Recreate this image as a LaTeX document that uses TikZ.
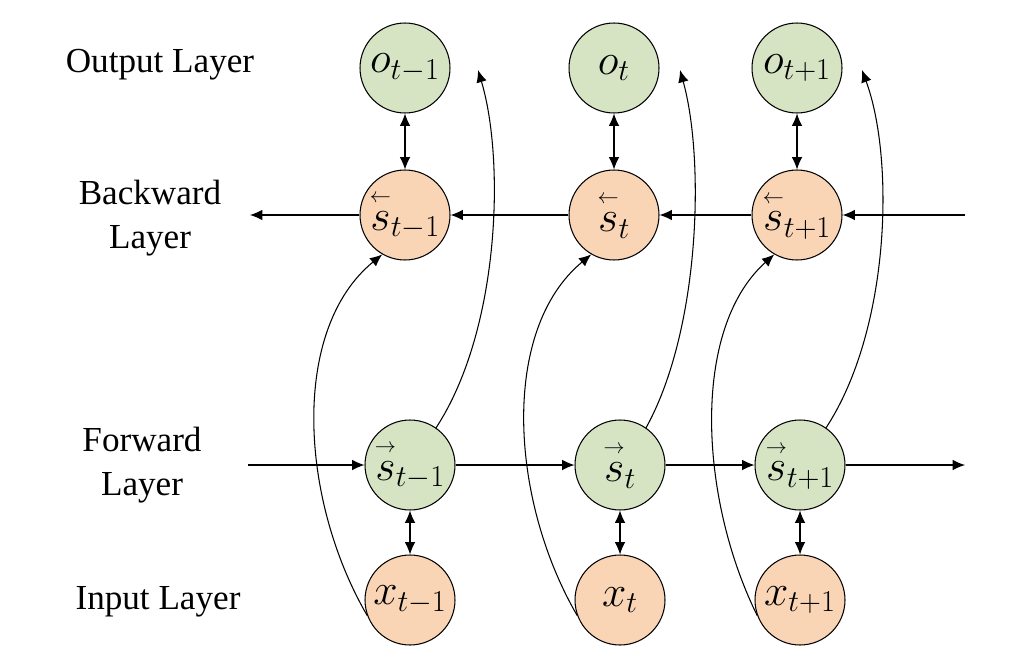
\documentclass[tikz,border=0pt]{standalone}
\usepackage{amsmath}
\usepackage{fontspec}
\setmainfont{Liberation Serif}
\usetikzlibrary{arrows.meta,positioning}
\definecolor{mgreen}{HTML}{D6E4C4}
\definecolor{morange}{HTML}{F9D5B6}
\tikzstyle{l2}=[line width=0.6]
\tikzstyle{unit}=[circle, draw=black, l2, minimum size=1.8cm, inner sep=0pt, font=\fontsize{23}{26}\selectfont]
\tikzstyle{lbl}=[font=\fontsize{20}{25}\selectfont, align=center]
\tikzstyle{arr}=[l2, -{Latex[length=7pt,width=6pt]}]
\tikzstyle{darr}=[l2, {Latex[length=7pt,width=6pt]}-{Latex[length=7pt,width=6pt]}]
\newcommand{\bk}{\overset{\scriptscriptstyle\leftarrow}{s}}
\newcommand{\fw}{\overset{\scriptscriptstyle\rightarrow}{s}}

\begin{document}
\begin{tikzpicture}[x=0.02cm, y=-0.02cm]
    \useasboundingbox (0,0) rectangle (1024,669);
    % layer labels
    \node[lbl] at (160,65) (lo) {Output Layer};
    \node[lbl] at (150,218) (lb) {Backward\\Layer};
    \node[lbl] at (142,465) (lf) {Forward\\Layer};
    \node[lbl] at (158,602) (li) {Input Layer};
    % units
    \node[unit, fill=mgreen] at (405,68) (o1) {$o_{t-1}$};
    \node[unit, fill=mgreen] at (614,68) (o2) {$o_{t}$};
    \node[unit, fill=mgreen] at (797,68) (o3) {$o_{t+1}$};
    \node[unit, fill=morange] at (405,215) (b1) {$\bk_{t-1}$};
    \node[unit, fill=morange] at (614,215) (b2) {$\bk_{t}$};
    \node[unit, fill=morange] at (797,215) (b3) {$\bk_{t+1}$};
    \node[unit, fill=mgreen] at (410,465) (f1) {$\fw_{t-1}$};
    \node[unit, fill=mgreen] at (620,465) (f2) {$\fw_{t}$};
    \node[unit, fill=mgreen] at (800,465) (f3) {$\fw_{t+1}$};
    \node[unit, fill=morange] at (410,600) (x1) {$x_{t-1}$};
    \node[unit, fill=morange] at (620,600) (x2) {$x_{t}$};
    \node[unit, fill=morange] at (800,600) (x3) {$x_{t+1}$};
    \coordinate (bin) at (965,215);
    \coordinate (bout) at (250,215);
    \coordinate (fin) at (248,465);
    \coordinate (fout) at (965,465);
    % recurrent connections
    \draw[arr] (bin) -- (b3);
    \draw[arr] (b3) -- (b2);
    \draw[arr] (b2) -- (b1);
    \draw[arr] (b1) -- (bout);
    \draw[arr] (fin) -- (f1);
    \draw[arr] (f1) -- (f2);
    \draw[arr] (f2) -- (f3);
    \draw[arr] (f3) -- (fout);
    % vertical links
    \foreach \i in {1,2,3} {
        \draw[darr] (o\i) -- (b\i);
        \draw[darr] (f\i) -- (x\i);
    }
    % input to backward
    \draw[arr] (x1.200) .. controls (300,500) and (290,330) .. (b1.240);
    \draw[arr] (x2.200) .. controls (510,500) and (500,330) .. (b2.240);
    \draw[arr] (x3.200) .. controls (700,500) and (690,330) .. (b3.240);
    % forward to output
    \draw[arr] (f1.55) .. controls (500,330) and (505,160) .. (478,70);
    \draw[arr] (f2.55) .. controls (700,330) and (705,160) .. (680,70);
    \draw[arr] (f3.55) .. controls (890,330) and (895,160) .. (862,70);
\end{tikzpicture}
\end{document}
